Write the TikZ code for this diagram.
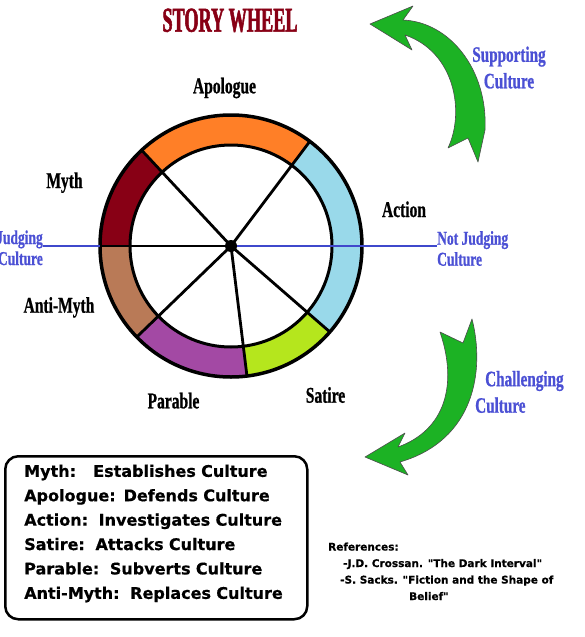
\documentclass[tikz,border=0pt]{standalone}
\usepackage{fontspec}
\setmainfont{Liberation Serif}
\newfontfamily\wheelfont{Liberation Serif}[FakeStretch=0.69,FakeBold=0.8]
\newfontfamily\titlefont{Liberation Serif}[FakeStretch=0.52,FakeBold=1.5]
\newfontfamily\notefont{DejaVu Sans}[FakeBold=0.6]
\definecolor{mythred}{HTML}{880015}
\definecolor{apologueorange}{HTML}{FF7F27}
\definecolor{actionblue}{HTML}{99D9EA}
\definecolor{satirelime}{HTML}{B5E61D}
\definecolor{parablepurple}{HTML}{A349A4}
\definecolor{antimythbrown}{HTML}{B97A57}
\definecolor{judgeblue}{HTML}{3F48CC}
\definecolor{cultureblue}{HTML}{4B50D4}
\definecolor{swinggreen}{RGB}{28,178,36}

\begin{document}
\begin{tikzpicture}[x=1pt,y=-1pt]
	\tikzstyle{every node}=[inner sep=0pt];
	\tikzstyle{wheel label}=[font=\wheelfont\bfseries\fontsize{22.5}{26}\selectfont,anchor=base];
	\tikzstyle{culture label}=[font=\wheelfont\bfseries\fontsize{22}{26.5}\selectfont,text=cultureblue];
	\tikzstyle{judge label}=[font=\wheelfont\bfseries\fontsize{19.6}{21}\selectfont,text=cultureblue];
	\tikzstyle{ring}=[draw=black,line width=3pt];
	\tikzstyle{spoke}=[draw=black,line width=2.8pt];
	\tikzstyle{judge line}=[draw=judgeblue,line width=2.5pt];
	\tikzstyle{swing arrow}=[fill=swinggreen,draw=black!70,line width=0.6pt,line join=round];

    \useasboundingbox (0,0) rectangle (584,637);

    \node at (230, 31.7) (title) [anchor=base,text=mythred,font=\titlefont\bfseries\fontsize{35}{40}\selectfont] {STORY WHEEL};

    \node at (224.5, 93.3) (apologue) [wheel label] {Apologue};
    \node at (64.5, 188) (myth) [wheel label] {Myth};
    \node at (59, 312.7) (antimyth) [wheel label] {Anti-Myth};
    \node at (404, 217) (action) [wheel label] {Action};
    \node at (173.5, 408.3) (parable) [wheel label] {Parable};
    \node at (325.5, 402.7) (satire) [wheel label] {Satire};

    % two-line labels sit on the baseline of their last line
    \node at (509, 88.3) (supporting) [culture label,anchor=base,align=center] {Supporting\\Culture};
    \node at (475, 412.7) (challenging) [culture label,anchor=base west,align=left] {\hspace*{10pt}Challenging\\Culture};
    \node at (437, 265.7) (notjudging) [judge label,anchor=base west,align=left] {Not Judging\\Culture};
    \node at (43, 265) (judging) [judge label,anchor=base east,align=right] {Judging\\Culture};

    % the wheel
    \begin{scope}[shift={(231,246)},yscale=-1]
      \coordinate (hub) at (0,0);
      \coordinate (west rim) at (180:131);
      \fill[mythred] (hub) -- (133:131) arc[start angle=133,end angle=180,radius=131] -- cycle;
      \fill[apologueorange] (hub) -- (53:131) arc[start angle=53,end angle=133,radius=131] -- cycle;
      \fill[actionblue] (hub) -- (-41:131) arc[start angle=-41,end angle=53,radius=131] -- cycle;
      \fill[satirelime] (hub) -- (-83:131) arc[start angle=-83,end angle=-41,radius=131] -- cycle;
      \fill[parablepurple] (hub) -- (-136:131) arc[start angle=-136,end angle=-83,radius=131] -- cycle;
      \fill[antimythbrown] (hub) -- (180:131) arc[start angle=180,end angle=224,radius=131] -- cycle;
      \draw[ring,fill=white] (hub) circle[radius=101];
      \draw[ring,line width=3.5pt] (hub) circle[radius=131];
      \draw[spoke] (hub) -- (133:131);
      \draw[spoke] (hub) -- (53:131);
      \draw[spoke] (hub) -- (-41:131);
      \draw[spoke] (hub) -- (-83:131);
      \draw[spoke] (hub) -- (-136:131);
    \end{scope}

    \draw[judge line] (judging.east |- hub) -- (notjudging.west |- hub);
    \draw[spoke] (west rim) -- (hub);
    \fill (hub) circle[radius=6];

    % swing arrows
    \draw[swing arrow] (370,24) -- (413,6) -- (403,20) .. controls (450,22) and (488,70) .. (485,130)
        -- (478,162) -- (468,138) -- (448,148) .. controls (465,112) and (455,52) .. (405,35) -- (412,50) -- cycle;
    \draw[swing arrow] (440,332) -- (463,343) -- (472,319) .. controls (485,370) and (475,440) .. (400,462)
        -- (408,475) -- (365,457) -- (405,433) -- (398,447) .. controls (445,430) and (458,385) .. (440,332) -- cycle;

    \node at (4, 455) (legend) [anchor=north west,draw,line width=2.5pt,rounded corners=13pt,
        text width=264pt,inner xsep=19pt,minimum height=163pt,text depth=134pt,align=left,
        font=\notefont\bfseries\fontsize{16}{24.4}\selectfont]
        {\makebox[69pt][l]{Myth:}Establishes Culture\\
         Apologue: Defends Culture\\
         Action:~~Investigates Culture\\
         Satire:~~Attacks Culture\\
         Parable:~~Subverts Culture\\
         Anti-Myth:~~Replaces Culture};

    \node at (328, 600) (references) [anchor=base west,align=left,
        font=\notefont\bfseries\fontsize{10.5}{16.5}\selectfont]
        {References:\\
         \hspace*{15pt}-J.D. Crossan. "The Dark Interval"\\
         \hspace*{12pt}-S. Sacks. "Fiction and the Shape of\\
         \hspace*{81pt}Belief"};
\end{tikzpicture}
\end{document}
